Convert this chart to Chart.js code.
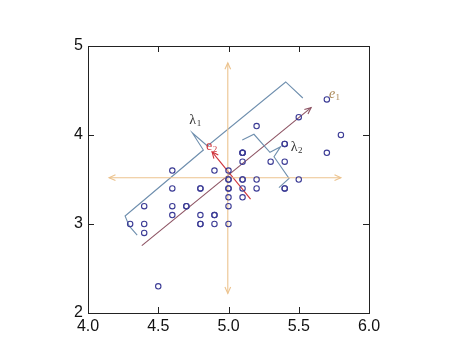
<!DOCTYPE html>
<html>
<head>
<meta charset="utf-8">
<script src="https://cdn.jsdelivr.net/npm/chart.js@4/dist/chart.umd.min.js"></script>
<style>
html,body{margin:0;padding:0;background:#fff;}
#wrap{width:474px;height:355px;}
</style>
</head>
<body>
<div id="wrap"><canvas id="c" width="474" height="355"></canvas></div>
<script>
// ---- data ----
const sepalLength = [5.1,4.9,4.7,4.6,5.0,5.4,4.6,5.0,4.4,4.9,5.4,4.8,4.8,4.3,5.8,5.7,5.4,5.1,5.7,5.1,5.4,5.1,4.6,5.1,4.8,5.0,5.0,5.2,5.2,4.7,4.8,5.4,5.2,5.5,4.9,5.0,5.5,4.9,4.4,5.1,5.0,4.5,4.4,5.0,5.1,4.8,5.1,4.6,5.3,5.0];
const sepalWidth  = [3.5,3.0,3.2,3.1,3.6,3.9,3.4,3.4,2.9,3.1,3.7,3.4,3.0,3.0,4.0,4.4,3.9,3.5,3.8,3.8,3.4,3.7,3.6,3.3,3.4,3.0,3.4,3.5,3.4,3.2,3.1,3.4,4.1,4.2,3.1,3.2,3.5,3.6,3.0,3.4,3.5,2.3,3.2,3.5,3.8,3.0,3.8,3.2,3.7,3.3];
const xTicks = [4.0,4.5,5.0,5.5,6.0];
const yTicks = [2,3,4,5];

// annotation paths (data coordinates)
const axisV = {x:[4.995,4.995], y:[2.22,4.81]};
const axisH = {x:[4.15,5.80], y:[3.52,3.52]};
const e1Arrow = {x:[4.383,5.588], y:[2.757,4.307]};
const e2Arrow = {x:[5.157,4.883], y:[3.28,3.81]};
const lambda1Brace = {x:[4.35,4.293,4.264,4.821,4.743,4.85,5.407,5.529], y:[2.876,2.978,3.090,3.831,4.022,3.876,4.596,4.416]};
const lambda2Brace = {x:[5.098,5.181,5.295,5.371,5.324,5.431,5.359], y:[3.944,4.008,3.806,3.869,3.756,3.513,3.408]};
const labelText = ['λ','λ','e','e'];
const labelSub  = ['1','2','1','2'];
const labelX = [4.757,5.479,5.75,4.875];
const labelY = [4.17,3.86,4.46,3.88];
const labelItalic = [false,false,true,false];

const C_PT = '#3b3b95', C_AX = '#ecc38e', C_BR = '#6f8fae', C_E1 = '#8c5262', C_E2 = '#d0353c';
const labelColor = ['#333','#333','#a88552',C_E2];

const pts = sepalLength.map((v,i)=>({x:v,y:sepalWidth[i]}));
const toPts = o => o.x.map((v,i)=>({x:v,y:o.y[i]}));
function lineDs(o,color,w,arrows){
  return {type:'line',data:toPts(o),borderColor:color,borderWidth:w,pointRadius:0,showLine:true,fill:false,tension:0,arrows:arrows||[],order:2};
}

const arrowPlugin = {
  id:'arrows',
  afterDatasetsDraw(chart){
    const ctx = chart.ctx;
    chart.data.datasets.forEach((ds,i)=>{
      if(!ds.arrows || !ds.arrows.length) return;
      const meta = chart.getDatasetMeta(i);
      const p = meta.data;
      const heads = [];
      if(ds.arrows.includes('end')) heads.push([p[p.length-2],p[p.length-1]]);
      if(ds.arrows.includes('start')) heads.push([p[1],p[0]]);
      ctx.save();
      ctx.strokeStyle = ds.borderColor; ctx.lineWidth = ds.borderWidth;
      heads.forEach(([a,b])=>{
        const ang = Math.atan2(b.y-a.y,b.x-a.x), L=7, sp=0.42;
        ctx.beginPath();
        ctx.moveTo(b.x-L*Math.cos(ang-sp), b.y-L*Math.sin(ang-sp));
        ctx.lineTo(b.x,b.y);
        ctx.lineTo(b.x-L*Math.cos(ang+sp), b.y-L*Math.sin(ang+sp));
        ctx.stroke();
      });
      ctx.restore();
    });
  }
};

const framePlugin = {
  id:'frame',
  afterDraw(chart){
    const {ctx,chartArea:a,scales} = chart;
    ctx.save();
    ctx.strokeStyle='#222'; ctx.lineWidth=1;
    ctx.strokeRect(a.left+0.5,a.top+0.5,a.right-a.left,a.bottom-a.top);
    ctx.beginPath();
    xTicks.forEach(v=>{const x=Math.round(scales.x.getPixelForValue(v))+0.5;
      ctx.moveTo(x,a.bottom); ctx.lineTo(x,a.bottom-6);
      ctx.moveTo(x,a.top); ctx.lineTo(x,a.top+6);});
    yTicks.forEach(v=>{const y=Math.round(scales.y.getPixelForValue(v))+0.5;
      ctx.moveTo(a.left,y); ctx.lineTo(a.left+6,y);
      ctx.moveTo(a.right,y); ctx.lineTo(a.right-6,y);});
    ctx.stroke();
    // text labels
    labelText.forEach((t,i)=>{
      const x=scales.x.getPixelForValue(labelX[i]), y=scales.y.getPixelForValue(labelY[i]);
      ctx.fillStyle=labelColor[i];
      ctx.font=(labelItalic[i]?'italic ':'')+'14px "Liberation Serif", serif';
      ctx.textBaseline='alphabetic'; ctx.textAlign='left';
      const w=ctx.measureText(t).width;
      ctx.fillText(t,x-5,y+4);
      ctx.font='9px "Liberation Serif", serif';
      ctx.fillText(labelSub[i],x-5+w+0.5,y+6);
    });
    ctx.restore();
  }
};

new Chart(document.getElementById('c'),{
  type:'scatter',
  data:{datasets:[
    lineDs(axisV,C_AX,1.1,['start','end']),
    lineDs(axisH,C_AX,1.1,['start','end']),
    lineDs(lambda1Brace,C_BR,1.1),
    lineDs(lambda2Brace,C_BR,1.1),
    lineDs(e1Arrow,C_E1,1.1,['end']),
    lineDs(e2Arrow,C_E2,1.1,['end']),
    {data:pts,pointStyle:'circle',pointRadius:2.7,pointBorderWidth:1.1,borderColor:C_PT,backgroundColor:'rgba(0,0,0,0)',pointBackgroundColor:'rgba(0,0,0,0)',order:1}
  ]},
  options:{
    responsive:false,animation:false,
    layout:{padding:{left:0,right:105,top:46,bottom:0}},
    plugins:{legend:{display:false},tooltip:{enabled:false}},
    scales:{
      x:{type:'linear',min:4,max:6,
        afterBuildTicks:s=>{s.ticks=xTicks.map(v=>({value:v}));},
        afterFit:s=>{s.height=42;},
        grid:{display:false,drawTicks:false},border:{display:false},
        ticks:{padding:4,color:'#111',font:{family:'"Liberation Sans", Arial, sans-serif',size:16},callback:v=>Number(v).toFixed(1),maxRotation:0,autoSkip:false}},
      y:{type:'linear',min:2,max:5,
        afterBuildTicks:s=>{s.ticks=yTicks.map(v=>({value:v}));},
        afterFit:s=>{s.width=88;},
        grid:{display:false,drawTicks:false},border:{display:false},
        ticks:{padding:5,color:'#111',font:{family:'"Liberation Sans", Arial, sans-serif',size:16},callback:v=>String(v)}}
    }
  },
  plugins:[arrowPlugin,framePlugin]
});
</script>
</body>
</html>
